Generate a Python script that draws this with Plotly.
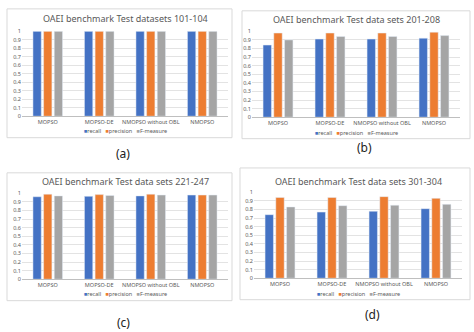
import plotly.graph_objects as go

W, H = 474, 332

categories = ["MOPSO", "MOPSO-DE", "NMOPSO without OBL", "NMOPSO"]
series_names = ["recall", "precision", "F-measure"]
colors = ["#4472C4", "#ED7D31", "#A5A5A5"]

titles = [
    "OAEI benchmark Test datasets 101-104",
    "OAEI benchmark Test data sets 201-208",
    "OAEI benchmark Test data sets 221-247",
    "OAEI benchmark Test data sets 301-304",
]
panel_labels = ["(a)", "(b)", "(c)", "(d)"]

# values per panel: [recall, precision, F-measure] each over categories
a_recall = [1.0, 1.0, 1.0, 1.0]
a_precision = [1.0, 1.0, 1.0, 1.0]
a_fmeasure = [1.0, 1.0, 1.0, 1.0]

b_recall = [0.84, 0.91, 0.91, 0.92]
b_precision = [0.98, 0.98, 0.98, 0.99]
b_fmeasure = [0.90, 0.94, 0.94, 0.95]

c_recall = [0.96, 0.965, 0.97, 0.98]
c_precision = [0.99, 0.985, 0.99, 0.98]
c_fmeasure = [0.97, 0.975, 0.98, 0.98]

d_recall = [0.74, 0.77, 0.78, 0.81]
d_precision = [0.94, 0.94, 0.95, 0.93]
d_fmeasure = [0.83, 0.845, 0.85, 0.86]

y_tickvals = [0, 0.1, 0.2, 0.3, 0.4, 0.5, 0.6, 0.7, 0.8, 0.9, 1]
y_ticktext = ["0", "0.1", "0.2", "0.3", "0.4", "0.5", "0.6", "0.7", "0.8", "0.9", "1"]

panels = [
    [a_recall, a_precision, a_fmeasure],
    [b_recall, b_precision, b_fmeasure],
    [c_recall, c_precision, c_fmeasure],
    [d_recall, d_precision, d_fmeasure],
]

# pixel geometry (layout only)
geo = [
    # box x0,x1,y0,y1 ; plot x0,x1 ; plot ytop(1), ybottom(0) ; title y ; legend y ; label x,y
    dict(box=(7, 232, 5, 137), px=(22, 228), py=(28, 115), ty=15, ly=130, lab=(123, 153)),
    dict(box=(242, 470, 7, 138), px=(252, 460), py=(28, 116), ty=16, ly=132, lab=(364, 147)),
    dict(box=(7, 232, 173, 304), px=(22, 228), py=(194, 282), ty=182, ly=297, lab=(123, 326)),
    dict(box=(240, 470, 168, 303), px=(254, 462), py=(193, 281), ty=182, ly=297, lab=(372, 318)),
]

def fx(p):
    return p / W

def fy(p):
    return 1 - p / H

fig = go.Figure()
layout = dict(
    width=W, height=H, margin=dict(l=0, r=0, t=0, b=0),
    paper_bgcolor="white", plot_bgcolor="white",
    showlegend=False, barmode="group", bargap=0.38, bargroupgap=0.22,
    font=dict(family="Noto Sans", color="#595959"),
)
shapes = []
annotations = []
text_col = "#595959"

for i, (vals, g) in enumerate(zip(panels, geo)):
    n = "" if i == 0 else str(i + 1)
    for s, (name, col) in enumerate(zip(series_names, colors)):
        fig.add_trace(go.Bar(
            x=categories, y=vals[s], name=name, marker_color=col,
            xaxis="x" + n, yaxis="y" + n, showlegend=False,
        ))
    layout["xaxis" + n] = dict(
        domain=[fx(g["px"][0]), fx(g["px"][1])], anchor="y" + n,
        showline=True, linecolor="#BFBFBF", linewidth=1, ticks="",
        tickfont=dict(size=5.5, color=text_col), showgrid=False, fixedrange=True,
    )
    layout["yaxis" + n] = dict(
        domain=[fy(g["py"][1]), fy(g["py"][0])], anchor="x" + n, range=[0, 1],
        tickvals=y_tickvals, ticktext=y_ticktext, gridcolor="#E3E3E3", gridwidth=1,
        zeroline=False, tickfont=dict(size=5.5, color=text_col), ticklen=0, ticks="",
        fixedrange=True,
    )
    x0, x1, y0, y1 = g["box"]
    shapes.append(dict(type="rect", xref="paper", yref="paper",
                       x0=fx(x0), x1=fx(x1), y0=fy(y1), y1=fy(y0),
                       line=dict(color="#D9D9D9", width=1), layer="below"))
    cx = (g["px"][0] + g["px"][1]) / 2
    annotations.append(dict(
        text=titles[i], x=fx(cx), y=fy(g["ty"]), xref="paper", yref="paper",
        showarrow=False, xanchor="center", yanchor="middle",
        font=dict(size=9, color=text_col)))
    leg = "   ".join(
        f'<span style="color:{c}">■</span>{nm}' for nm, c in zip(series_names, colors))
    annotations.append(dict(
        text=leg, x=fx(cx), y=fy(g["ly"]), xref="paper", yref="paper",
        showarrow=False, xanchor="center", yanchor="middle",
        font=dict(size=5.5, color=text_col)))
    lx, ly = g["lab"]
    annotations.append(dict(
        text=panel_labels[i], x=fx(lx), y=fy(ly), xref="paper", yref="paper",
        showarrow=False, xanchor="center", yanchor="middle",
        font=dict(size=12, color="#222222")))

layout["shapes"] = shapes
layout["annotations"] = annotations
fig.update_layout(**layout)
fig.write_html("out.html")
